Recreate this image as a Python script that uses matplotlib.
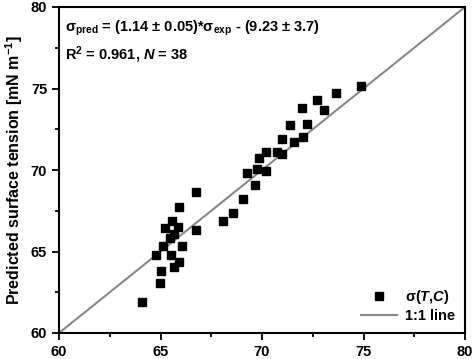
import matplotlib
matplotlib.use("Agg")
import matplotlib.pyplot as plt
from matplotlib.ticker import MultipleLocator

plt.rcParams['font.family'] = ['Liberation Sans', 'DejaVu Sans']
plt.rcParams['font.weight'] = 'bold'
plt.rcParams['mathtext.fontset'] = 'custom'
plt.rcParams['mathtext.rm'] = 'Liberation Sans:bold'
plt.rcParams['mathtext.it'] = 'Liberation Sans:italic:bold'
plt.rcParams['mathtext.bf'] = 'Liberation Sans:bold'
plt.rcParams['mathtext.sf'] = 'Liberation Sans:bold'

sigma_exp = [64.07, 64.99, 65.02, 64.78, 65.68, 65.91, 65.53, 65.11, 66.07, 65.48,
             65.65, 65.20, 65.86, 65.55, 65.89, 66.75, 66.75, 68.09, 68.57, 69.08,
             69.64, 69.26, 69.77, 69.84, 70.20, 70.20, 70.72, 70.99, 70.99, 71.59,
             72.00, 72.20, 71.38, 71.97, 72.69, 73.07, 73.65, 74.86]
sigma_pred = [61.88, 63.09, 63.82, 64.80, 64.05, 64.36, 64.80, 65.36, 65.36, 65.85,
              66.09, 66.44, 66.48, 66.87, 67.71, 66.30, 68.63, 66.89, 67.38, 68.24,
              69.08, 69.80, 70.04, 70.72, 69.96, 71.08, 71.08, 70.96, 71.88, 71.70,
              72.04, 72.84, 72.74, 73.80, 74.27, 73.68, 74.70, 75.17]
line_x = [60, 80]
line_y = [60, 80]
ticks = [60, 65, 70, 75, 80]

fig = plt.figure(figsize=(4.74, 3.59), dpi=100)
ax = fig.add_axes([59/474, 1-333/359, 406/474, 326/359])

ax.plot(line_x, line_y, color='#888888', lw=1.5, label='1:1 line', zorder=2)
ax.plot(sigma_exp, sigma_pred, 's', color='black', ms=6, ls='none',
        label=r'σ($\mathit{T}$,$\mathit{C}$)', zorder=3)

ax.set_xlim(60, 80)
ax.set_ylim(60, 80)
ax.set_xticks(ticks)
ax.set_yticks(ticks)
ax.xaxis.set_minor_locator(MultipleLocator(2.5))
ax.yaxis.set_minor_locator(MultipleLocator(2.5))
ax.tick_params(which='both', direction='out', top=False, right=False, width=1.3)
ax.tick_params(which='major', length=5, labelsize=10.5)
ax.tick_params(which='minor', length=3)
for lbl in ax.get_xticklabels() + ax.get_yticklabels():
    lbl.set_fontweight('bold')
for s in ax.spines.values():
    s.set_linewidth(1.5)

ax.set_ylabel(r'Predicted surface tension [mN m$^{-1}$]', fontsize=11.5, fontweight='bold', labelpad=4)

ax.text(0.015, 0.965, r'σ$_{\mathrm{pred}}$ = (1.14 ± 0.05)*σ$_{\mathrm{exp}}$ - (9.23 ± 3.7)',
        transform=ax.transAxes, fontsize=10.5, fontweight='bold', va='top', ha='left')
ax.text(0.015, 0.885, r'R$^{2}$ = 0.961, $\mathit{N}$ = 38',
        transform=ax.transAxes, fontsize=10.5, fontweight='bold', va='top', ha='left')

h, l = ax.get_legend_handles_labels()
leg = ax.legend(h[::-1], l[::-1], loc='lower right', frameon=False, fontsize=10.5,
                handlelength=2.5, borderaxespad=0.3, labelspacing=0.2, handletextpad=0.5)
for t in leg.get_texts():
    t.set_fontweight('bold')

fig.savefig('out.png', dpi=100)
